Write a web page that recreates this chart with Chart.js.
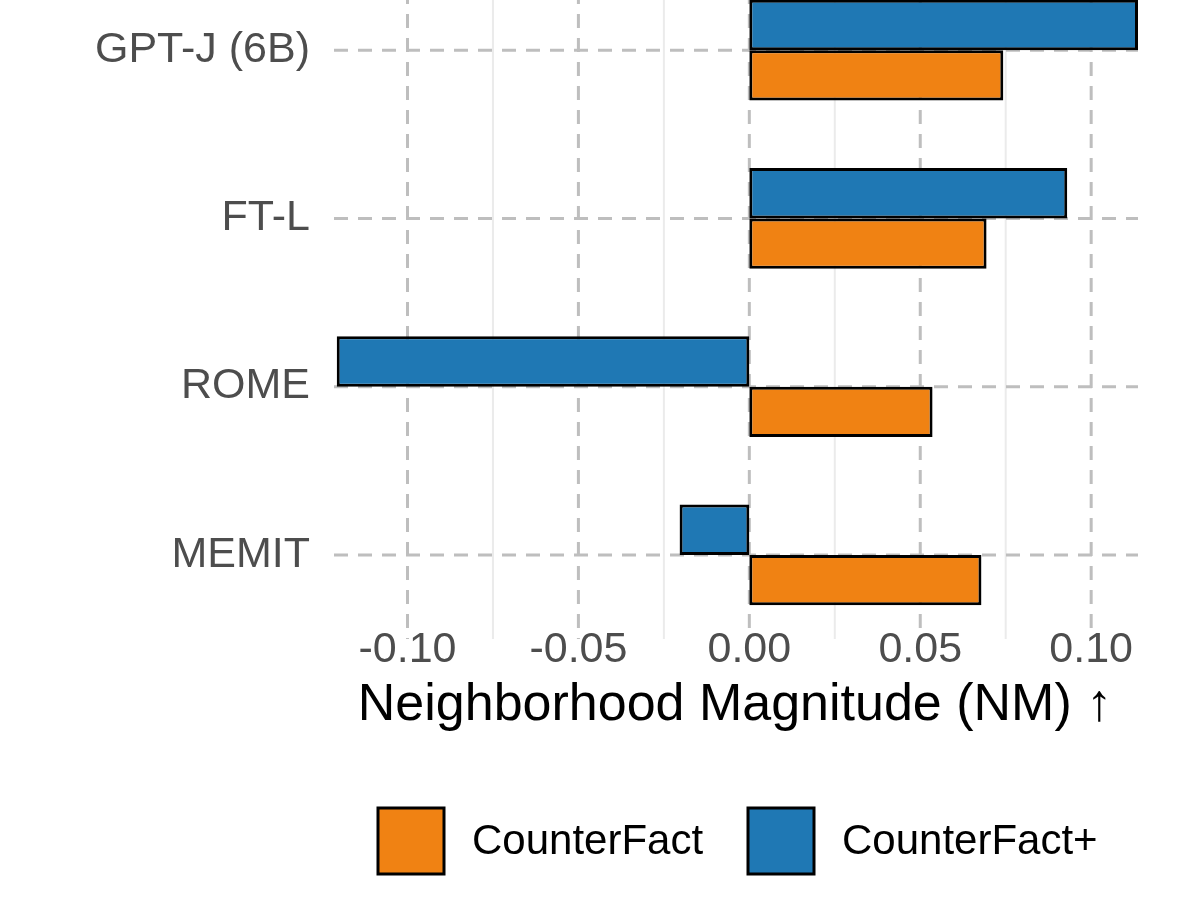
<!DOCTYPE html>
<html><head><meta charset="utf-8">
<script src="https://cdn.jsdelivr.net/npm/chart.js@4/dist/chart.umd.min.js"></script>
<style>html,body{margin:0;padding:0;background:#fff;overflow:hidden}#wrap{position:absolute;left:0;top:-34px;width:1200px;height:934px}</style>
</head><body><div id="wrap"><canvas id="c"></canvas></div>
<script>
const categories = ["GPT-J (6B)", "FT-L", "ROME", "MEMIT"];
const counterFactPlus = [0.1137, 0.0930, -0.1207, -0.0204];
const counterFact = [0.0743, 0.0694, 0.0536, 0.0679];
const majorTicks = [-0.10, -0.05, 0.00, 0.05, 0.10];
const minorTicks = [-0.075, -0.025, 0.025, 0.075];
const seriesNames = ["CounterFact", "CounterFact+"];
const FONT = '"Liberation Sans", Arial, sans-serif';

const decor = {
  id: 'decor',
  beforeDatasetsDraw(chart) {
    const {ctx, chartArea: a, scales: {x, y}} = chart;
    ctx.save();
    ctx.lineWidth = 2; ctx.strokeStyle = '#ebebeb'; ctx.setLineDash([]);
    minorTicks.forEach(v => { const px = x.getPixelForValue(v); ctx.beginPath(); ctx.moveTo(px, a.top); ctx.lineTo(px, a.bottom); ctx.stroke(); });
    ctx.lineWidth = 3; ctx.strokeStyle = '#bebebe'; ctx.setLineDash([14, 10]);
    majorTicks.forEach(v => { const px = x.getPixelForValue(v); ctx.beginPath(); ctx.moveTo(px, a.top); ctx.lineTo(px, a.bottom); ctx.stroke(); });
    categories.forEach((c, i) => { const py = y.getPixelForValue(i); ctx.beginPath(); ctx.moveTo(a.left, py); ctx.lineTo(a.right, py); ctx.stroke(); });
    ctx.restore();
  },
  afterDraw(chart) {
    const {ctx, chartArea: a, scales: {x, y}} = chart;
    ctx.save();
    ctx.fillStyle = '#4d4d4d';
    ctx.font = '43px ' + FONT;
    ctx.textAlign = 'center'; ctx.textBaseline = 'middle';
    majorTicks.forEach(v => ctx.fillText(v.toFixed(2), x.getPixelForValue(v), 684));
    ctx.textAlign = 'right';
    categories.forEach((c, i) => ctx.fillText(c, 310, y.getPixelForValue(i)));
    ctx.fillStyle = '#000';
    ctx.font = '52px ' + FONT; ctx.textAlign = 'center';
    ctx.fillText('Neighborhood Magnitude (NM) ↑', 735, 740);
    const cols = ['#F08213', '#1F78B4'];
    const bx = [378, 748], tx = [472, 842];
    ctx.font = '42px ' + FONT; ctx.textAlign = 'left';
    ctx.lineWidth = 3; ctx.strokeStyle = '#000';
    for (let i = 0; i < 2; i++) {
      ctx.fillStyle = cols[i]; ctx.fillRect(bx[i], 842, 66, 66); ctx.strokeRect(bx[i], 842, 66, 66);
      ctx.fillStyle = '#000'; ctx.fillText(seriesNames[i], tx[i], 876);
    }
    ctx.restore();
  }
};

new Chart(document.getElementById('c'), {
  type: 'bar',
  data: {
    labels: categories,
    datasets: [
      {label: seriesNames[1], data: counterFactPlus, backgroundColor: '#1F78B4', borderColor: '#000', borderWidth: 3, borderSkipped: false},
      {label: seriesNames[0], data: counterFact, backgroundColor: '#F08213', borderColor: '#000', borderWidth: 3, borderSkipped: false}
    ]
  },
  options: {
    indexAxis: 'y', responsive: true, maintainAspectRatio: false, devicePixelRatio: 1, animation: false,
    categoryPercentage: 0.6, barPercentage: 1,
    layout: {padding: {left: 0, right: 62, top: 0, bottom: 0}},
    plugins: {legend: {display: false}, tooltip: {enabled: false}},
    scales: {
      x: {min: -0.1215, max: 0.1137, grid: {display: false}, border: {display: false}, ticks: {display: false},
          afterFit(s) { s.height = 261; }},
      y: {grid: {display: false}, border: {display: false}, ticks: {display: false},
          afterFit(s) { s.width = 334; }}
    }
  },
  plugins: [decor]
});
</script></body></html>
